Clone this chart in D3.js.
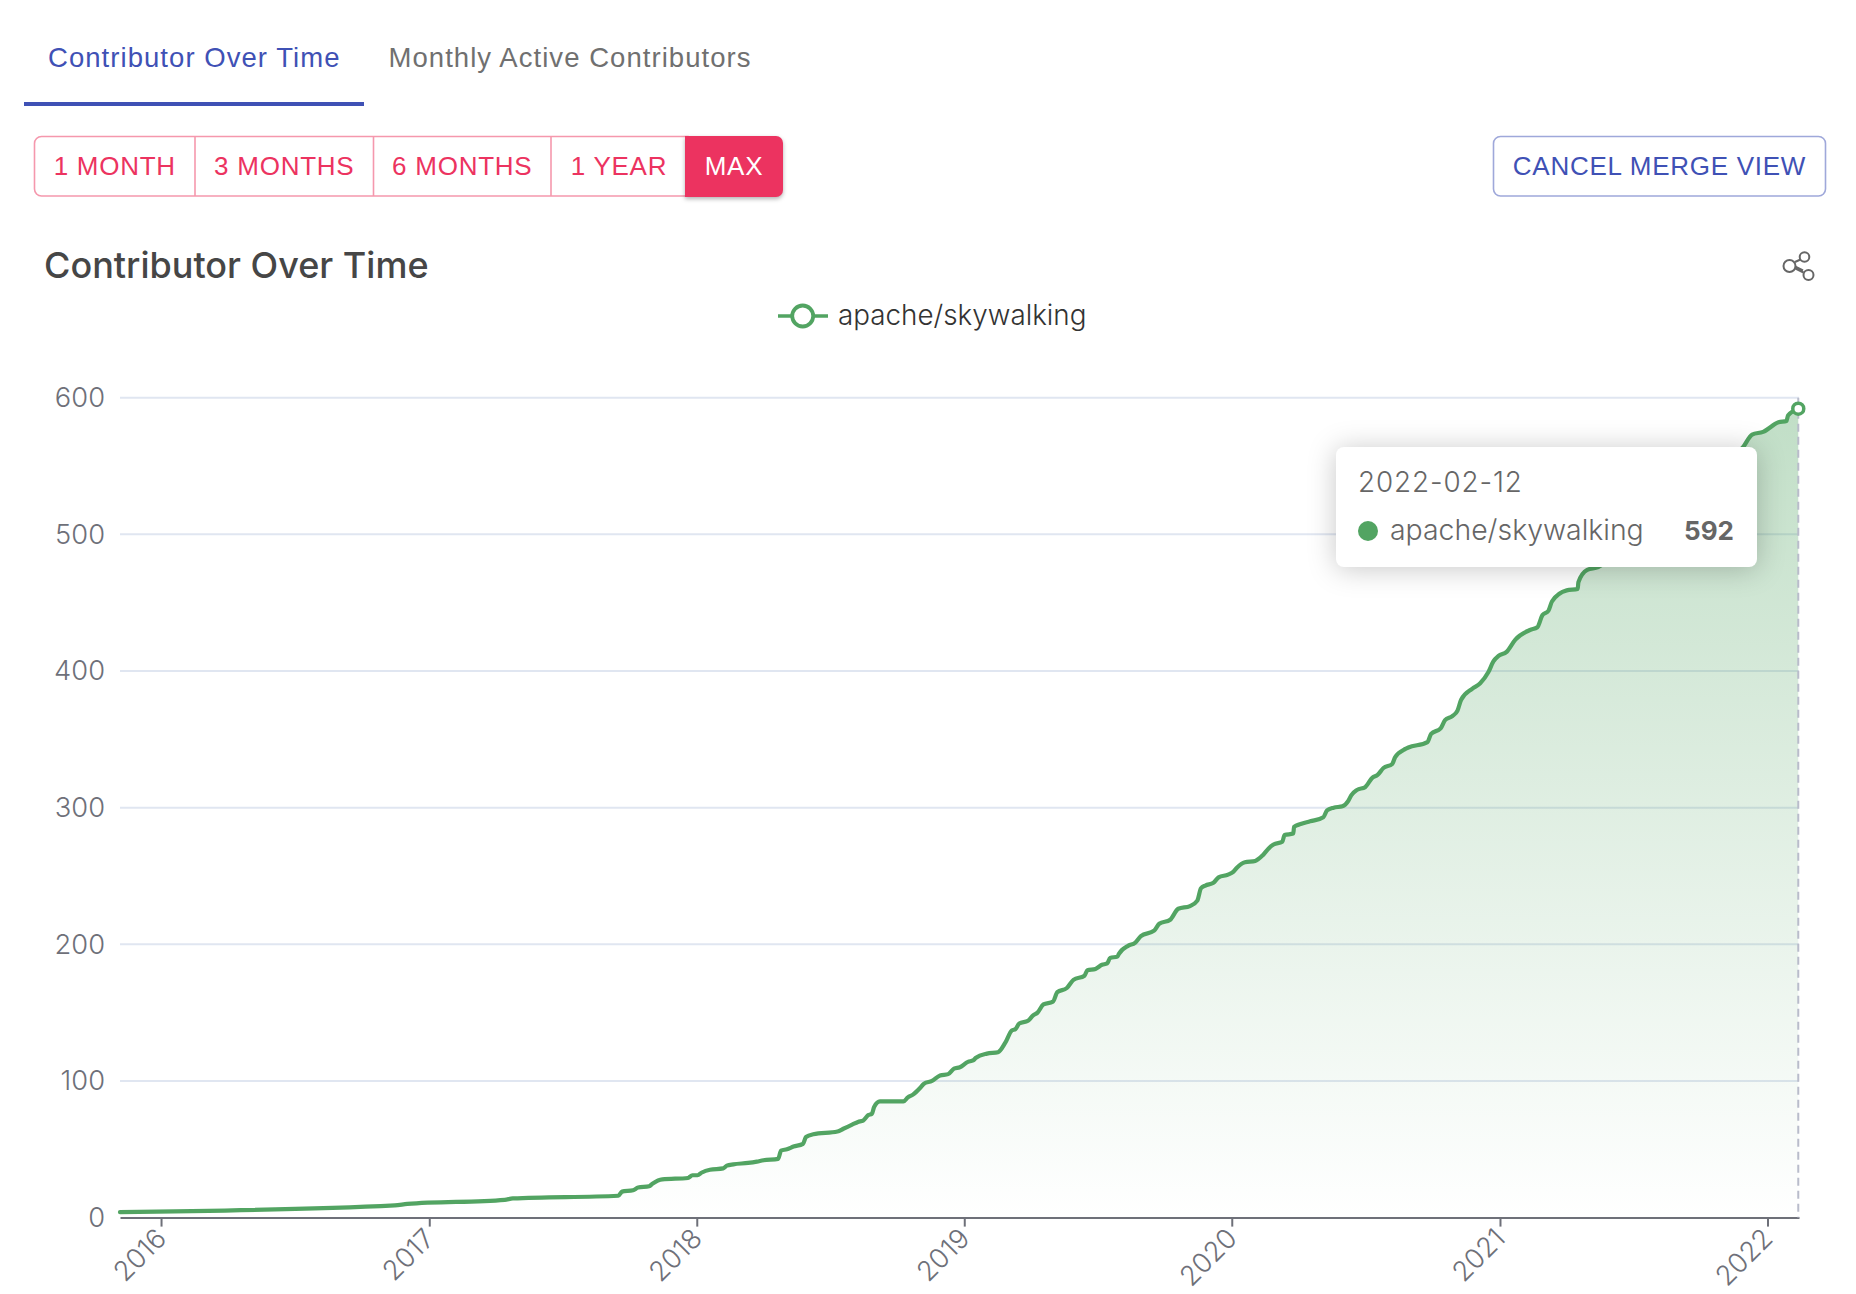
<!DOCTYPE html>
<html>
<head>
<meta charset="utf-8">
<title>Contributor Over Time</title>
<script src="https://cdn.jsdelivr.net/npm/d3@7/dist/d3.min.js"></script>
<style>
  html, body { margin: 0; padding: 0; background: #fff; }
  svg { display: block; }
  .ui { font-family: "Liberation Sans", sans-serif; }
  .chart { font-family: Inter, sans-serif; }
</style>
</head>
<body>
<div id="chart"></div>
<script>
(function () {
  'use strict';
  /* global d3 */

  var tabLabels = ['Contributor Over Time', 'Monthly Active Contributors'];
  var rangeLabels = ['1 MONTH', '3 MONTHS', '6 MONTHS', '1 YEAR', 'MAX'];
  var seriesName = 'apache/skywalking';
  var yearTicks = [2016, 2017, 2018, 2019, 2020, 2021, 2022];
  var valueTicks = [0, 100, 200, 300, 400, 500, 600];

  // days since 2016-01-01
  var dayOffsets = [-56, 319, 336, 469, 480, 624, 629, 644, 651, 666, 671, 684, 719, 725, 732, 738, 749, 767, 772, 781,
    801, 813, 822, 842, 846, 854, 863, 876, 880, 890, 923, 931, 943, 951, 958, 965, 970, 973, 981, 1013,
    1019, 1026, 1036, 1041, 1052, 1063, 1074, 1082, 1090, 1101, 1108, 1112, 1127, 1142, 1152, 1161, 1166, 1171, 1183, 1190,
    1196, 1204, 1217, 1223, 1236, 1245, 1260, 1264, 1275, 1284, 1291, 1295, 1305, 1307, 1320, 1329, 1337, 1355, 1362, 1377,
    1388, 1404, 1414, 1419, 1425, 1436, 1443, 1456, 1463, 1468, 1479, 1493, 1503, 1511, 1518, 1530, 1533, 1545, 1546, 1555,
    1568, 1586, 1591, 1600, 1612, 1620, 1624, 1632, 1643, 1653, 1660, 1668, 1680, 1684, 1698, 1702, 1728, 1733, 1746, 1752,
    1762, 1769, 1774, 1789, 1800, 1811, 1818, 1825, 1836, 1848, 1868, 1878, 1885, 1893, 1898, 1918, 1933, 1934, 1946, 1961,
    1991, 2032, 2073, 2114, 2159, 2171, 2186, 2207, 2218, 2220, 2234];

  var contributors = [4, 9, 10, 13, 14, 16, 19, 20, 22, 23, 25, 28, 29, 31, 31, 33, 35, 36, 38, 39,
    40, 41, 42, 43, 49, 50, 52, 54, 59, 61, 63, 65, 68, 70, 71, 75, 76, 81, 85, 85,
    88, 90, 95, 98, 100, 104, 105, 109, 110, 114, 115, 117, 120, 121, 128, 137, 138, 142, 144, 148,
    150, 156, 158, 165, 168, 174, 177, 181, 182, 185, 186, 190, 191, 193, 199, 201, 206, 210, 215, 218,
    226, 228, 232, 241, 243, 245, 249, 251, 253, 256, 260, 261, 265, 270, 273, 275, 280, 281, 286, 288,
    290, 293, 298, 300, 301, 305, 309, 313, 315, 322, 324, 329, 332, 337, 343, 344, 348, 354, 358, 364,
    367, 371, 379, 387, 391, 399, 407, 411, 414, 423, 430, 432, 441, 444, 451, 459, 460, 465, 474, 476,
    490, 510, 530, 548, 564, 573, 575, 582, 583, 587, 592];

  var w = 1856,
      h = 1294,
      plotLeft = 120,
      plotRight = 1799,
      plotTop = 397.7,
      plotBottom = 1217.6;

  var green = '#52a462',
      pink = '#ec3360',
      indigo = '#3f51b5',
      axisGrey = '#6e7079';

  var origin = new Date(2016, 0, 1);
  var points = dayOffsets.map(function (d, i) {
    return {date: d3.timeDay.offset(origin, d), value: contributors[i]};
  });
  var last = points[points.length - 1];

  // the time axis runs a day past the last point
  var x = d3.scaleTime()
    .domain([points[0].date, d3.timeDay.offset(last.date, 1)])
    .range([plotLeft, plotRight]);

  var y = d3.scaleLinear()
    .domain([0, 600])
    .range([plotBottom, plotTop]);

  var svg = d3.select('#chart')
    .append('svg')
    .attr('width', w)
    .attr('height', h)
    .attr('viewBox', '0 0 ' + w + ' ' + h);

  var defs = svg.append('defs');

  var grad = defs.append('linearGradient')
    .attr('id', 'area-fill')
    .attr('gradientUnits', 'userSpaceOnUse')
    .attr('x1', 0).attr('x2', 0)
    .attr('y1', y(last.value)).attr('y2', plotBottom);
  grad.append('stop').attr('offset', 0).attr('stop-color', green).attr('stop-opacity', 0.36);
  grad.append('stop').attr('offset', 1).attr('stop-color', green).attr('stop-opacity', 0);

  // tabs
  var tabs = svg.append('g').attr('class', 'ui');
  tabs.selectAll('text')
    .data(tabLabels)
    .enter()
    .append('text')
    .text(function (d) { return d; })
    .attr('x', function (d, i) { return [48, 388.5][i]; })
    .attr('y', 67)
    .attr('font-size', 27.5)
    .attr('letter-spacing', 1.05)
    .attr('fill', function (d, i) { return i === 0 ? indigo : '#707070'; });
  tabs.append('rect')
    .attr('x', 24).attr('y', 102)
    .attr('width', 340).attr('height', 4)
    .attr('fill', indigo);

  // range buttons
  var edges = [34.5, 195, 373.5, 551, 685, 783];
  var buttons = svg.append('g').attr('class', 'ui');
  buttons.append('rect')
    .attr('x', edges[0]).attr('y', 136.5)
    .attr('width', edges[4] - edges[0] + 10).attr('height', 59.5)
    .attr('rx', 7)
    .attr('fill', '#fff')
    .attr('stroke', '#f598ad')
    .attr('stroke-width', 1.6);
  buttons.selectAll('line')
    .data(edges.slice(1, 4))
    .enter()
    .append('line')
    .attr('x1', function (d) { return d; })
    .attr('x2', function (d) { return d; })
    .attr('y1', 136.5).attr('y2', 196)
    .attr('stroke', '#f598ad')
    .attr('stroke-width', 1.6);
  buttons.append('path')
    .attr('d', 'M685,136H776a7,7 0 0 1 7,7V190a7,7 0 0 1 -7,7H685Z')
    .attr('fill', pink)
    .style('filter', 'drop-shadow(0 2px 2px rgba(0,0,0,.3))');
  buttons.selectAll('text')
    .data(rangeLabels)
    .enter()
    .append('text')
    .text(function (d) { return d; })
    .attr('x', function (d, i) { return (edges[i] + edges[i + 1]) / 2 + (i === 3 ? 1 : 0); })
    .attr('y', 175)
    .attr('text-anchor', 'middle')
    .attr('font-size', 26)
    .attr('letter-spacing', 0.74)
    .attr('fill', function (d, i) { return i === 4 ? '#fff' : pink; });

  // merge button
  var merge = svg.append('g').attr('class', 'ui');
  merge.append('rect')
    .attr('x', 1493.5).attr('y', 136.5)
    .attr('width', 332).attr('height', 59.5)
    .attr('rx', 7)
    .attr('fill', '#fff')
    .attr('stroke', '#9fa8da')
    .attr('stroke-width', 1.6);
  merge.append('text')
    .text('CANCEL MERGE VIEW')
    .attr('x', 1659.5).attr('y', 175)
    .attr('text-anchor', 'middle')
    .attr('font-size', 26)
    .attr('letter-spacing', 0.74)
    .attr('fill', indigo);

  var chart = svg.append('g').attr('class', 'chart');

  // title
  chart.append('text')
    .text(tabLabels[0])
    .attr('x', 44).attr('y', 278)
    .attr('font-size', 36)
    .attr('font-weight', 500)
    .attr('fill', '#464646');

  // share icon
  var share = chart.append('g')
    .attr('fill', 'none')
    .attr('stroke', '#666')
    .attr('stroke-width', 2);
  share.append('path').attr('d', 'M1795,262L1800.5,259.5M1795.5,268.5L1803.5,272.5M1795,266.5L1803,270.5');
  share.append('circle').attr('cx', 1804.5).attr('cy', 257).attr('r', 4.8);
  share.append('circle').attr('cx', 1789.5).attr('cy', 266).attr('r', 6);
  share.append('circle').attr('cx', 1808.5).attr('cy', 275).attr('r', 5);

  // legend
  var legend = chart.append('g');
  legend.append('line')
    .attr('x1', 778).attr('x2', 828)
    .attr('y1', 316).attr('y2', 316)
    .attr('stroke', green)
    .attr('stroke-width', 3.5);
  legend.append('circle')
    .attr('cx', 802.7).attr('cy', 316).attr('r', 10.5)
    .attr('fill', '#fff')
    .attr('stroke', green)
    .attr('stroke-width', 3.8);
  legend.append('text')
    .text(seriesName)
    .attr('x', 838).attr('y', 325)
    .attr('font-size', 27.8)
    .attr('font-weight', 350)
    .attr('fill', '#333');

  // grid lines
  chart.append('g')
    .selectAll('line')
    .data(valueTicks.slice(1))
    .enter()
    .append('line')
    .attr('x1', plotLeft).attr('x2', plotRight)
    .attr('y1', function (d) { return y(d); })
    .attr('y2', function (d) { return y(d); })
    .attr('stroke', '#e0e6f1')
    .attr('stroke-width', 2);

  // y axis labels only, the line is hidden
  var yAxis = chart.append('g')
    .attr('transform', 'translate(' + plotLeft + ',0)')
    .call(d3.axisLeft(y).tickValues(valueTicks).tickSize(0).tickPadding(15));
  yAxis.select('.domain').remove();
  yAxis.selectAll('text')
    .attr('font-family', 'Inter, sans-serif')
    .attr('font-size', 27.3)
    .attr('font-weight', 350)
    .attr('fill', axisGrey);

  // area and line
  var areaFun = d3.area()
    .x(function (d) { return x(d.date); })
    .y0(plotBottom)
    .y1(function (d) { return y(d.value); })
    .curve(d3.curveMonotoneX);

  var lineFun = d3.line()
    .x(function (d) { return x(d.date); })
    .y(function (d) { return y(d.value); })
    .curve(d3.curveMonotoneX);

  chart.append('path')
    .attr('d', areaFun(points))
    .attr('fill', 'url(#area-fill)');

  // x axis
  var xAxis = chart.append('g')
    .attr('transform', 'translate(0,' + plotBottom + ')')
    .call(d3.axisBottom(x)
      .tickValues(yearTicks.map(function (d) { return new Date(d, 0, 1); }))
      .tickFormat(d3.timeFormat('%Y'))
      .tickSize(9)
      .tickSizeOuter(0));
  xAxis.select('.domain').attr('stroke', axisGrey).attr('stroke-width', 2);
  xAxis.selectAll('line').attr('stroke', axisGrey).attr('stroke-width', 2);
  xAxis.selectAll('text')
    .attr('font-family', 'Inter, sans-serif')
    .attr('font-size', 27.3)
    .attr('font-weight', 350)
    .attr('fill', axisGrey)
    .attr('text-anchor', 'end')
    .attr('transform', 'translate(-8,8) rotate(-45)')
    .attr('x', 0).attr('y', 0).attr('dy', '0.75em');

  // axis pointer on the last day
  chart.append('line')
    .attr('x1', x(last.date)).attr('x2', x(last.date))
    .attr('y1', plotTop).attr('y2', plotBottom)
    .attr('stroke', '#b9bccb')
    .attr('stroke-width', 2)
    .attr('stroke-dasharray', '8,5');

  chart.append('path')
    .attr('d', lineFun(points))
    .attr('fill', 'none')
    .attr('stroke', green)
    .attr('stroke-width', 4.2)
    .attr('stroke-linecap', 'round')
    .attr('stroke-linejoin', 'round');

  chart.append('circle')
    .attr('cx', x(last.date)).attr('cy', y(last.value)).attr('r', 5.5)
    .attr('fill', '#fff')
    .attr('stroke', green)
    .attr('stroke-width', 3.5);

  // tooltip
  var tip = chart.append('g');
  tip.append('rect')
    .attr('x', 1336).attr('y', 447)
    .attr('width', 421).attr('height', 120)
    .attr('rx', 8)
    .attr('fill', '#fff')
    .style('filter', 'drop-shadow(0 2px 14px rgba(0,0,0,.22))');
  tip.append('text')
    .text(d3.timeFormat('%Y-%m-%d')(last.date))
    .attr('x', 1358).attr('y', 492)
    .attr('font-size', 27.8)
    .attr('font-weight', 350)
    .attr('letter-spacing', 0.9)
    .attr('fill', '#666');
  tip.append('circle')
    .attr('cx', 1368).attr('cy', 531).attr('r', 10)
    .attr('fill', green);
  tip.append('text')
    .text(seriesName)
    .attr('x', 1390).attr('y', 540)
    .attr('font-size', 28.4)
    .attr('font-weight', 350)
    .attr('fill', '#666');
  tip.append('text')
    .text(last.value)
    .attr('x', 1734).attr('y', 540)
    .attr('text-anchor', 'end')
    .attr('font-size', 26)
    .attr('font-weight', 700)
    .attr('fill', '#666');

}());
</script>
</body>
</html>
